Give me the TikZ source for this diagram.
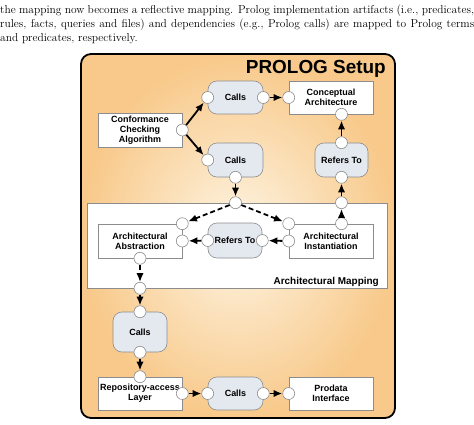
\documentclass[tikz,border=0pt]{standalone}
\usepackage{fontspec}
\setsansfont{Liberation Sans}
\usepackage{tikz}
\usetikzlibrary{arrows.meta,positioning,calc}
\definecolor{framec}{HTML}{F8C98A}
\definecolor{glowc}{HTML}{FEF5E4}
\definecolor{cloudc}{HTML}{E4E8EF}
\definecolor{edgec}{HTML}{8C8C8C}
\tikzset{
  >={Latex[length=3.1mm,width=2.6mm]},
  box/.style={draw=edgec,line width=0.6pt,fill=white,inner sep=1pt,align=center,minimum width=84bp,minimum height=34bp,font=\sffamily\bfseries\fontsize{9}{10}\selectfont},
  cbox/.style={box,fill=cloudc,rounded corners=9pt,minimum width=55bp},
  port/.style={circle,draw=edgec,line width=0.6pt,fill=white,minimum size=12pt,inner sep=0pt},
  ptr/.style={->,line width=1.8pt},
  ptrd/.style={ptr,dash pattern=on 5pt off 3pt},
  note/.style={font=\fontsize{11.5}{14}\selectfont,anchor=base west,inner sep=0pt},
}

\begin{document}
\begin{tikzpicture}[x=1bp,y=-1bp]
  \useasboundingbox (0,0) rectangle (474,424);
  % text above the figure
  \node[note] (l1) at (0,13.5) {\makebox[474bp][s]{the mapping now becomes a reflective mapping. Prolog implementation artifacts (i.e., predicates,}};
  \node[note] (l2) at (0,27.5) {\makebox[474bp][s]{rules, facts, queries and files) and dependencies (e.g., Prolog calls) are mapped to Prolog terms}};
  \node[note] (l3) at (0,41.5) {and predicates, respectively.};
  % setup frame
  \shadedraw[rounded corners=10bp,inner color=glowc,outer color=framec,line width=1.8bp] (81,54) rectangle (395,418);
  \node[font=\sffamily\bfseries\fontsize{19}{22}\selectfont,anchor=base east,inner sep=0pt] (title) at (386,73) {PROLOG Setup};
  % mapping area
  \node[draw=edgec,line width=0.6pt,fill=white,minimum width=300bp,minimum height=85bp,inner sep=0pt] (map) at (237,245.5) {};
  \node[font=\sffamily\bfseries\fontsize{10}{12}\selectfont,anchor=base east,inner sep=0pt] (maplbl) at (379,284) {Architectural Mapping};
  % boxes
  \node[box] (cca) at (140,130) {Conformance\\Checking\\Algorithm};
  \node[box,minimum height=33bp] (concept) at (331,97.5) {Conceptual\\Architecture};
  \node[cbox,minimum height=33bp] (c1) at (235.5,97.5) {Calls};
  \node[cbox] (c2) at (235.5,160) {Calls};
  \node[cbox,minimum width=53bp] (ref1) at (341.5,160) {Refers To};
  \node[box] (abs) at (140,241) {Architectural\\Abstraction};
  \node[cbox,minimum width=54bp,minimum height=35bp] (ref2) at (235,240.5) {Refers To};
  \node[box] (inst) at (331,241) {Architectural\\Instantiation};
  \node[cbox,minimum width=54bp,minimum height=40bp] (c3) at (140,332) {Calls};
  \node[box,minimum height=33bp] (repo) at (140,393.5) {Repository-access\\Layer};
  \node[cbox,minimum height=33bp] (c4) at (235.5,393.5) {Calls};
  \node[box,minimum height=33bp] (prod) at (331,393.5) {Prodata\\Interface};
  % ports
  \node[port] (cca-e) at (cca.east) {};
  \node[port] (c1-w) at (c1.west) {};
  \node[port] (c1-e) at (c1.east) {};
  \node[port] (concept-w) at (concept.west) {};
  \node[port] (concept-s) at (ref1.north |- concept.south) {};
  \node[port] (c2-w) at (c2.west) {};
  \node[port] (c2-s) at (c2.south) {};
  \node[port] (ref1-n) at (ref1.north) {};
  \node[port] (ref1-s) at (ref1.south) {};
  \node[port] (map-n) at (c2.south |- map.north) {};
  \node[port] (map-ne) at (ref1.south |- map.north) {};
  \node[port] (map-s) at (abs.south |- map.south) {};
  \node[port] (abs-ne) at (abs.north east) {};
  \node[port] (abs-e) at (abs.east) {};
  \node[port] (abs-s) at (abs.south) {};
  \node[port] (ref2-w) at (ref2.west) {};
  \node[port] (ref2-e) at (ref2.east) {};
  \node[port] (inst-nw) at (inst.north west) {};
  \node[port] (inst-w) at (inst.west) {};
  \node[port] (inst-n) at (ref1.south |- inst.north) {};
  \node[port] (c3-n) at (c3.north) {};
  \node[port] (c3-s) at (c3.south) {};
  \node[port] (repo-n) at (repo.north) {};
  \node[port] (repo-e) at (repo.east) {};
  \node[port] (c4-w) at (c4.west) {};
  \node[port] (c4-e) at (c4.east) {};
  \node[port] (prod-w) at (prod.west) {};
  % connectors
  \draw[ptr] (cca-e) -- (c1-w);
  \draw[ptr] (cca-e) -- (c2-w);
  \draw[ptr] (c1-e) -- (concept-w);
  \draw[ptr] (c2-s) -- (map-n);
  \draw[ptrd] (map-n) -- (abs-ne);
  \draw[ptrd] (map-n) -- (inst-nw);
  \draw[ptr] (inst-w) -- (ref2-e);
  \draw[ptr] (ref2-w) -- (abs-e);
  \draw[ptr] (inst-n) -- (map-ne);
  \draw[ptr] (map-ne) -- (ref1-s);
  \draw[ptr] (ref1-n) -- (concept-s);
  \draw[ptrd] (abs-s) -- (map-s);
  \draw[ptr] (map-s) -- (c3-n);
  \draw[ptr] (c3-s) -- (repo-n);
  \draw[ptr] (repo-e) -- (c4-w);
  \draw[ptr] (c4-e) -- (prod-w);
\end{tikzpicture}
\end{document}
